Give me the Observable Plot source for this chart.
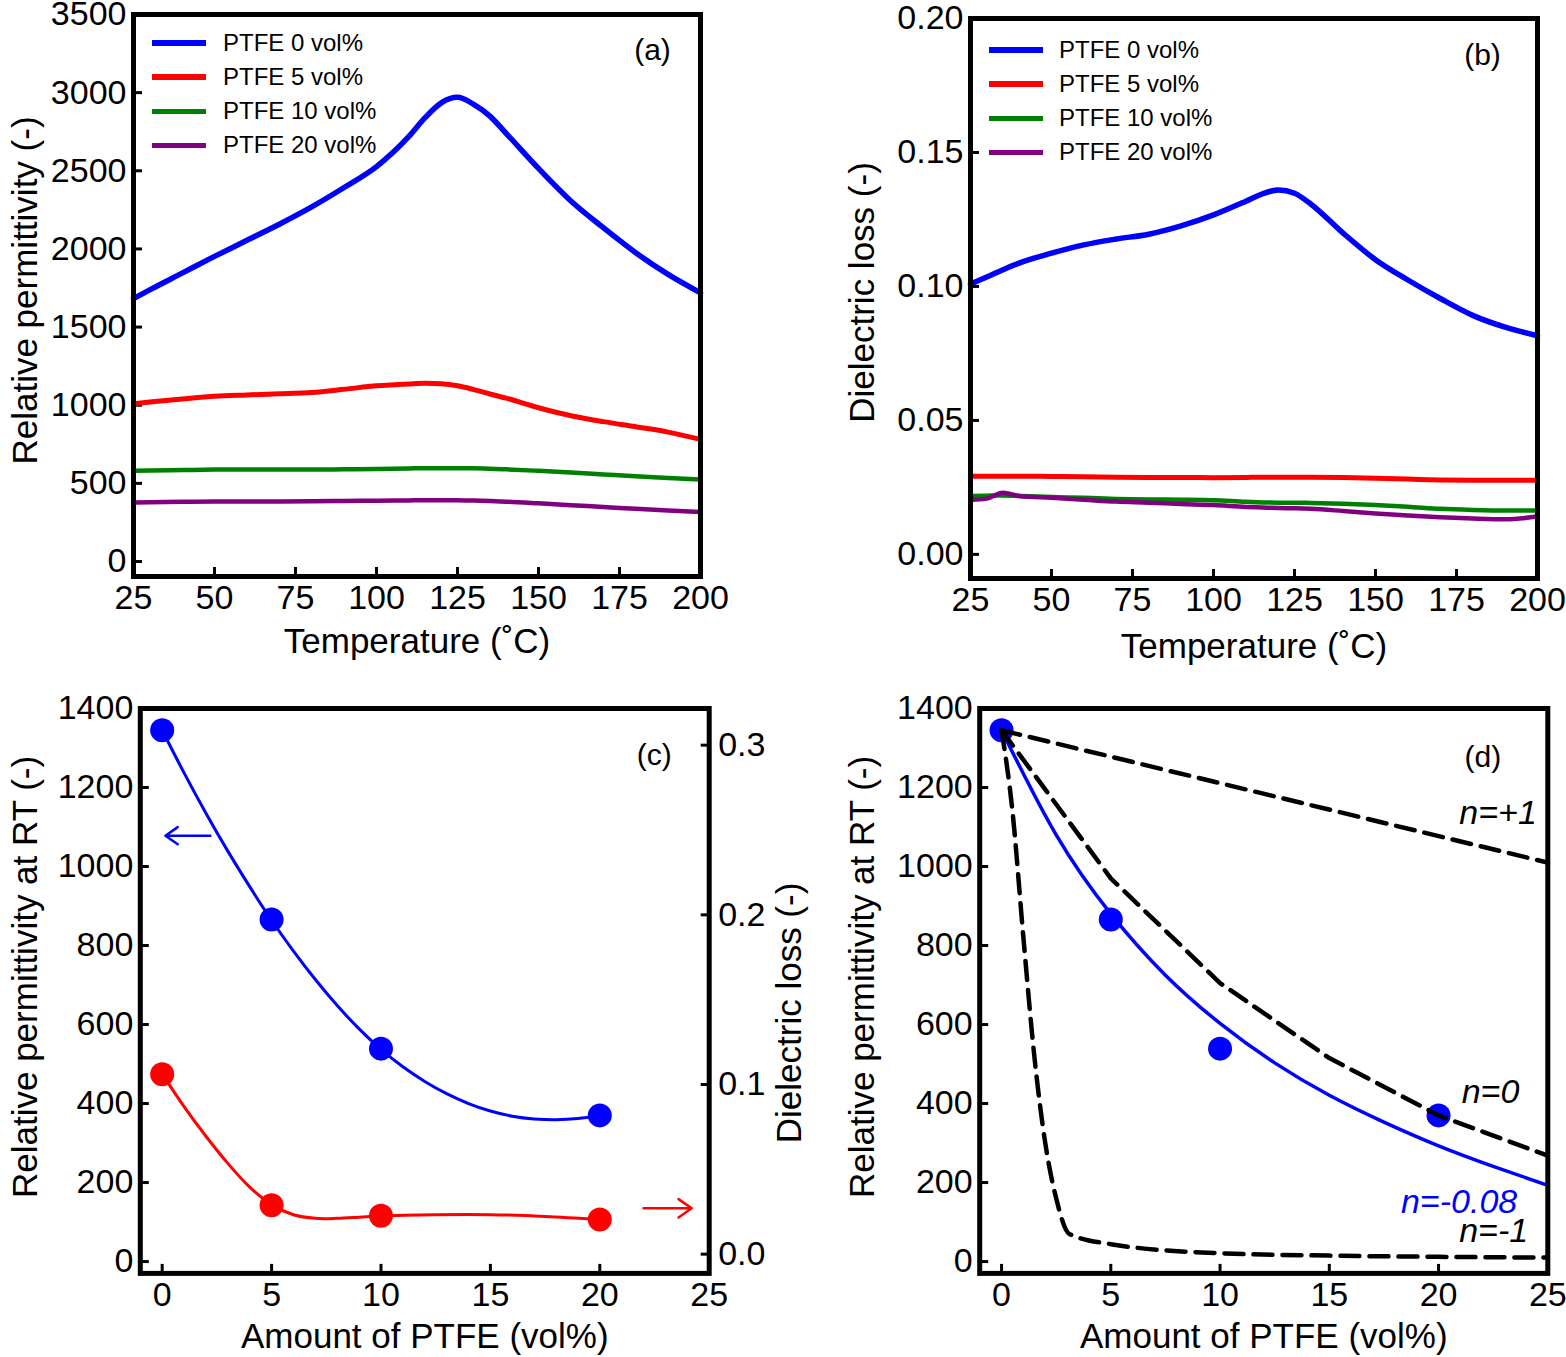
<!DOCTYPE html>
<html>
<head>
<meta charset="utf-8">
<script src="https://cdn.jsdelivr.net/npm/d3@7"></script>
<script src="https://cdn.jsdelivr.net/npm/@observablehq/plot@0.6"></script>
<style>
  body { margin: 0; background: #fff; }
  #fig { position: relative; width: 1566px; height: 1357px; background: #fff;
         font-family: "Liberation Sans", Arial, Helvetica, sans-serif; color: #000; }
  .panel { position: absolute; }
  .panel svg { overflow: visible; }
  .legtxt { position: absolute; font-size: 24px; line-height: 28px; white-space: nowrap; }
  .legsw { position: absolute; }
</style>
</head>
<body>
<div id="fig"></div>
<script>
// ---------- (a) relative permittivity vs temperature ----------
const tempA = [25, 30, 40, 50, 60, 70, 80, 90, 100, 110, 115, 120, 125, 130, 135, 140, 150, 160, 170, 180, 190, 200];
const permA_0  = [1682, 1738, 1845, 1952, 2055, 2158, 2269, 2393, 2527, 2720, 2840, 2935, 2970, 2925, 2850, 2740, 2515, 2307, 2136, 1976, 1837, 1719];
const permA_5  = [1009, 1020, 1040, 1058, 1066, 1073, 1082, 1102, 1124, 1136, 1140, 1137, 1124, 1100, 1072, 1045, 984, 933, 895, 862, 828, 781];
const permA_10 = [580, 582, 585, 588, 589, 588, 588, 590, 592, 595, 597, 597, 597, 596, 594, 590, 580, 569, 557, 545, 535, 524];
const permA_20 = [377, 379, 382, 384, 384, 384, 385, 387, 389, 391, 392, 392, 392, 390, 387, 383, 372, 360, 349, 337, 326, 316];

// ---------- (b) dielectric loss vs temperature ----------
const tempB = [25, 30, 35, 40, 50, 60, 70, 80, 90, 100, 110, 115, 120, 125, 130, 140, 150, 160, 170, 180, 190, 200];
const lossB_0  = [0.1009, 0.1035, 0.1062, 0.1087, 0.1124, 0.1155, 0.1177, 0.1195, 0.1226, 0.1267, 0.1318, 0.1345, 0.1360, 0.1348, 0.1308, 0.1199, 0.1100, 0.1024, 0.0955, 0.0892, 0.0848, 0.0816];
const lossB_5  = [0.0292, 0.0292, 0.0292, 0.0292, 0.0291, 0.0290, 0.0288, 0.0287, 0.0287, 0.0286, 0.0287, 0.0288, 0.0288, 0.0288, 0.0288, 0.0287, 0.0284, 0.0281, 0.0278, 0.0277, 0.0277, 0.0277];
const lossB_10 = [0.0218, 0.0219, 0.0220, 0.0218, 0.0214, 0.0211, 0.0207, 0.0205, 0.0204, 0.0202, 0.0196, 0.0194, 0.0193, 0.0193, 0.0192, 0.0189, 0.0184, 0.0178, 0.0170, 0.0166, 0.0164, 0.0164];
const lossB_20 = [0.0203, 0.0208, 0.0230, 0.0218, 0.0211, 0.0204, 0.0197, 0.0193, 0.0188, 0.0184, 0.0177, 0.0175, 0.0173, 0.0172, 0.0170, 0.0162, 0.0153, 0.0145, 0.0139, 0.0134, 0.0131, 0.0141];

const seriesNames  = ["PTFE 0 vol%", "PTFE 5 vol%", "PTFE 10 vol%", "PTFE 20 vol%"];
const seriesColors = ["#0000ff", "#ff0000", "#008000", "#800080"];
const seriesWidths = [5.5, 5, 4.5, 4.5];

// ---------- (c) room-temperature values vs PTFE content ----------
const ptfe   = [0, 5, 10, 20];
const permRT = [1345, 866, 539, 370];
const lossRT = [0.106, 0.0288, 0.0226, 0.0204];
const fitPermX = [0, 1, 2, 3, 4, 5, 6, 7, 8, 9, 10, 11, 12, 13, 14, 15, 16, 17, 18, 19, 20];
const fitPermY = [1345, 1237, 1135, 1039, 949, 864, 786, 714, 648, 589, 537, 493, 456, 425, 400, 381, 368, 361, 359, 362, 369];
const fitLossX = [0, 1, 2, 3, 4, 5, 6, 7, 8, 9, 10, 12.5, 15, 17.5, 20];
const fitLossY = [0.1063, 0.0870, 0.0695, 0.0535, 0.0395, 0.0292, 0.0232, 0.0211, 0.0211, 0.0218, 0.0226, 0.0233, 0.0233, 0.0222, 0.0204];
const arrowPerm = {x1: 2.2, x2: 0.15, y: 1078};   // points to the left axis
const arrowLoss = {x1: 22.0, x2: 24.2, y: 0.027}; // points to the right axis

// ---------- (d) mixing-rule curves ----------
const nPlus1X = [0, 25];
const nPlus1Y = [1345, 1010];
const nZeroX = [0, 5, 10, 15, 20, 25];
const nZeroY = [1345, 970, 705, 515, 370, 268];
const nMinus1X = [0, 0.5, 1, 1.5, 2, 2.5, 3.1, 5, 10, 15, 20, 25];
const nMinus1Y = [1345, 1140, 820, 520, 300, 160, 70, 44, 21, 15, 12, 10];
const nFitX = [0, 2.5, 5, 7.5, 10, 12.5, 15, 17.5, 20, 22.5, 25];
const nFitY = [1345, 1080, 880, 725, 603, 503, 421, 353, 293, 241, 193];
const curveLabelText  = ["n=+1", "n=0", "n=-0.08", "n=-1"];
const curveLabelX     = [24.5, 23.7, 23.6, 24.1];
const curveLabelY     = [1136, 428, 151, 77];
const curveLabelColor = ["#000", "#000", "#0000ff", "#000"];

// ---------- axis ticks ----------
const ticksTemp = [25, 50, 75, 100, 125, 150, 175, 200];
const ticksPermA = [0, 500, 1000, 1500, 2000, 2500, 3000, 3500];
const ticksLossB = [0, 0.05, 0.10, 0.15, 0.20];
const ticksPtfe = [0, 5, 10, 15, 20, 25];
const ticksPermRT = [0, 200, 400, 600, 800, 1000, 1200, 1400];
const ticksLossRT = [0, 0.1, 0.2, 0.3];

// ---------- helpers ----------
const FONT = '"Liberation Sans", Arial, Helvetica, sans-serif';
const baseStyle = {fontFamily: FONT, fontSize: "34px", background: "transparent", overflow: "visible", color: "#000"};
const fig = document.getElementById("fig");
const zip = (xs, ys) => xs.map((x, i) => ({x, y: ys[i]}));
const centered = {textAnchor: "middle", lineAnchor: "middle"};

function place(node, left, top, w, h) {
  const div = document.createElement("div");
  div.className = "panel";
  Object.assign(div.style, {left: left + "px", top: top + "px", width: w + "px", height: h + "px"});
  div.appendChild(node);
  fig.appendChild(div);
}

function legend(left, top, lineX, textX, rows) {
  seriesNames.forEach((name, i) => {
    const sw = document.createElement("div");
    sw.className = "legsw";
    const h = seriesWidths[i] + 0.5;
    Object.assign(sw.style, {left: (left + lineX) + "px", top: (top + rows[i] - h / 2) + "px",
      width: "54px", height: h + "px", background: seriesColors[i]});
    fig.appendChild(sw);
    const tx = document.createElement("div");
    tx.className = "legtxt";
    tx.textContent = name;
    Object.assign(tx.style, {left: (left + textX) + "px", top: (top + rows[i] - 14) + "px"});
    fig.appendChild(tx);
  });
}

function axes(o) {
  return [
    Plot.axisX({ticks: o.xTicks, tickSize: 0, tickPadding: 8, tickFormat: d => String(d), fontSize: 34, label: null}),
    Plot.axisX({ticks: o.xTicks, tickSize: 9, dy: -9, strokeWidth: 3, text: null, label: null}),
    Plot.axisY({ticks: o.yTicks, tickSize: 0, tickPadding: 7, tickFormat: o.yFmt, fontSize: 34, label: null}),
    Plot.axisY({ticks: o.yTicks, tickSize: 9, dx: 9, strokeWidth: 3, text: null, label: null}),
    Plot.text([o.xTitle], {text: d => d, frameAnchor: "bottom", dy: o.xTitleDy, fontSize: 35, ...centered}),
    Plot.text([o.yTitle], {text: d => d, frameAnchor: "left", rotate: -90, dx: o.yTitleDx, dy: o.yTitleDy, fontSize: 35, ...centered}),
    Plot.text([o.tag], {text: d => d, frameAnchor: "top-right", dx: o.tagDx, dy: o.tagDy, fontSize: 30, ...centered})
  ];
}

// ---------- panel (a) ----------
const permA = [permA_0, permA_5, permA_10, permA_20];
place(Plot.plot({
  width: 730, height: 680,
  marginLeft: 133, marginRight: 30, marginTop: 14, marginBottom: 104,
  x: {domain: [25, 200]},
  y: {domain: [-96, 3500]},
  style: baseStyle,
  marks: [
    ...axes({xTicks: ticksTemp, yTicks: ticksPermA, yFmt: d => String(d),
      xTitle: "Temperature (˚C)", xTitleDy: 65, yTitle: "Relative permittivity (-)", yTitleDx: -108, yTitleDy: -5,
      tag: "(a)", tagDx: -48, tagDy: 36}),
    ...permA.map((ys, i) => Plot.line(zip(tempA, ys), {x: "x", y: "y", stroke: seriesColors[i], strokeWidth: seriesWidths[i], curve: "monotone-x"})),
    Plot.frame({stroke: "#000", strokeWidth: 5})
  ]
}), 0, 0, 730, 680);
legend(0, 0, 152, 223, [43, 77, 111, 145]);

// ---------- panel (b) ----------
const lossB = [lossB_0, lossB_5, lossB_10, lossB_20];
place(Plot.plot({
  width: 766, height: 680,
  marginLeft: 170, marginRight: 29, marginTop: 18, marginBottom: 102,
  x: {domain: [25, 200]},
  y: {domain: [-0.009, 0.20]},
  style: baseStyle,
  marks: [
    ...axes({xTicks: ticksTemp, yTicks: ticksLossB, yFmt: d => d.toFixed(2),
      xTitle: "Temperature (˚C)", xTitleDy: 68, yTitle: "Dielectric loss (-)", yTitleDx: -108, yTitleDy: -6,
      tag: "(b)", tagDx: -55, tagDy: 37}),
    ...lossB.map((ys, i) => Plot.line(zip(tempB, ys), {x: "x", y: "y", stroke: seriesColors[i], strokeWidth: seriesWidths[i], curve: "monotone-x"})),
    Plot.frame({stroke: "#000", strokeWidth: 5})
  ]
}), 800, 0, 766, 680);
legend(800, 0, 189, 259, [50, 84, 118, 152]);

// ---------- panel (c) ----------
const cW = 760, cH = 677, cML = 139.8, cMR = 51.3, cMT = 28, cMB = 84.1;
// left axis: relative permittivity
place(Plot.plot({
  width: cW, height: cH,
  marginLeft: cML, marginRight: cMR, marginTop: cMT, marginBottom: cMB,
  x: {domain: [-1, 25]},
  y: {domain: [-30, 1400]},
  style: baseStyle,
  marks: [
    ...axes({xTicks: ticksPtfe, yTicks: ticksPermRT, yFmt: d => String(d),
      xTitle: "Amount of PTFE (vol%)", xTitleDy: 63, yTitle: "Relative permittivity at RT (-)", yTitleDx: -115, yTitleDy: -14,
      tag: "(c)", tagDx: -55, tagDy: 47}),
    Plot.line(zip(fitPermX, fitPermY), {x: "x", y: "y", stroke: "#0000ff", strokeWidth: 3, curve: "natural"}),
    Plot.dot(zip(ptfe, permRT), {x: "x", y: "y", r: 12, fill: "#0000ff"}),
    Plot.arrow([arrowPerm], {x1: "x1", x2: "x2", y1: "y", y2: "y", stroke: "#0000ff", strokeWidth: 2.5, headLength: 14, headAngle: 70}),
    Plot.frame({stroke: "#000", strokeWidth: 5})
  ]
}), 0, 680, cW, cH);
// right axis: dielectric loss
place(Plot.plot({
  width: cW, height: cH,
  marginLeft: cML, marginRight: cMR, marginTop: cMT, marginBottom: cMB,
  x: {domain: [-1, 25], axis: null},
  y: {domain: [-0.01134, 0.32161]},
  style: baseStyle,
  marks: [
    Plot.axisY({anchor: "right", ticks: ticksLossRT, tickSize: 0, tickPadding: 9, tickFormat: d => d.toFixed(1), fontSize: 34, label: null}),
    Plot.axisY({anchor: "right", ticks: ticksLossRT, tickSize: 9, dx: -9, strokeWidth: 3, text: null, label: null}),
    Plot.text(["Dielectric loss (-)"], {text: d => d, frameAnchor: "right", rotate: -90, dx: 81, dy: 22, fontSize: 35, ...centered}),
    Plot.line(zip(fitLossX, fitLossY), {x: "x", y: "y", stroke: "#ff0000", strokeWidth: 3, curve: "catmull-rom"}),
    Plot.dot(zip(ptfe, lossRT), {x: "x", y: "y", r: 12, fill: "#ff0000"}),
    Plot.arrow([arrowLoss], {x1: "x1", x2: "x2", y1: "y", y2: "y", stroke: "#ff0000", strokeWidth: 2.5, headLength: 14, headAngle: 70})
  ]
}), 0, 680, cW, cH);

// ---------- panel (d) ----------
const dashed = {stroke: "#000", strokeWidth: 4.5, strokeDasharray: "19,10"};
place(Plot.plot({
  width: 766, height: 677,
  marginLeft: 179.2, marginRight: 18.7, marginTop: 28, marginBottom: 84.1,
  x: {domain: [-1, 25]},
  y: {domain: [-30, 1400]},
  style: baseStyle,
  marks: [
    ...axes({xTicks: ticksPtfe, yTicks: ticksPermRT, yFmt: d => String(d),
      xTitle: "Amount of PTFE (vol%)", xTitleDy: 63, yTitle: "Relative permittivity at RT (-)", yTitleDx: -117, yTitleDy: -14,
      tag: "(d)", tagDx: -65, tagDy: 49}),
    Plot.dot(zip(ptfe, permRT), {x: "x", y: "y", r: 12, fill: "#0000ff"}),
    Plot.line(zip(nFitX, nFitY), {x: "x", y: "y", stroke: "#0000ff", strokeWidth: 3.5, curve: "natural"}),
    Plot.line(zip(nPlus1X, nPlus1Y), {x: "x", y: "y", ...dashed}),
    Plot.line(zip(nZeroX, nZeroY), {x: "x", y: "y", ...dashed}),
    Plot.line(zip(nMinus1X, nMinus1Y), {x: "x", y: "y", ...dashed, curve: "monotone-x"}),
    Plot.text(curveLabelText.map((t, i) => ({t, x: curveLabelX[i], y: curveLabelY[i], c: curveLabelColor[i]})),
      {x: "x", y: "y", text: "t", fill: d => d.c, textAnchor: "end", lineAnchor: "middle", fontStyle: "italic", fontSize: 34}),
    Plot.frame({stroke: "#000", strokeWidth: 5})
  ]
}), 800, 680, 766, 677);
</script>
</body>
</html>
